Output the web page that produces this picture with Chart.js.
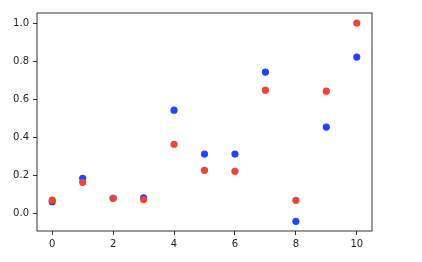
<!DOCTYPE html>
<html>
<head>
<meta charset="utf-8">
<script src="https://cdn.jsdelivr.net/npm/chart.js@4/dist/chart.umd.min.js"></script>
<style>
  html, body { margin: 0; padding: 0; background: #fff; }
  #wrap { width: 422px; height: 262px; }
</style>
</head>
<body>
<div id="wrap"><canvas id="c" width="422" height="262"></canvas></div>
<script>
const xValues = [0, 1, 2, 3, 4, 5, 6, 7, 8, 9, 10];
const blueValues = [0.061, 0.184, 0.079, 0.081, 0.542, 0.311, 0.311, 0.742, -0.042, 0.453, 0.821];
const redValues = [0.070, 0.163, 0.079, 0.072, 0.363, 0.226, 0.221, 0.647, 0.068, 0.642, 1.000];
const xTicks = [0, 2, 4, 6, 8, 10];
const yTicks = [0.0, 0.2, 0.4, 0.6, 0.8, 1.0];

const toPts = vals => xValues.map((x, i) => ({ x: x, y: vals[i] }));

const frame = {
  id: 'frame',
  afterDraw(chart) {
    const a = chart.chartArea, ctx = chart.ctx;
    ctx.save();
    ctx.strokeStyle = '#000';
    ctx.lineWidth = 0.8;
    ctx.strokeRect(a.left, a.top, a.right - a.left, a.bottom - a.top);
    ctx.restore();
  }
};

new Chart(document.getElementById('c'), {
  type: 'scatter',
  data: {
    datasets: [
      { label: 'red', data: toPts(redValues), backgroundColor: '#ee4433', borderWidth: 0, pointRadius: 3.6, order: 1 },
      { label: 'blue', data: toPts(blueValues), backgroundColor: '#2244ff', borderWidth: 0, pointRadius: 3.6, order: 2 }
    ]
  },
  options: {
    responsive: false,
    animation: false,
    devicePixelRatio: 1,
    layout: { padding: { left: 0, right: 50, top: 13, bottom: 0 } },
    plugins: { legend: { display: false }, tooltip: { enabled: false } },
    scales: {
      x: {
        type: 'linear', min: -0.5, max: 10.5,
        afterBuildTicks: s => { s.ticks = xTicks.map(v => ({ value: v })); },
        afterFit: s => { s.height = 31; },
        grid: { display: true, drawOnChartArea: false, drawTicks: true, tickLength: 4, color: '#000', lineWidth: 0.8 },
        border: { display: false },
        ticks: { color: '#222', font: { family: 'DejaVu Sans', size: 10 }, padding: 3, maxRotation: 0,
                  callback: v => String(v) }
      },
      y: {
        type: 'linear', min: -0.093, max: 1.0526,
        afterBuildTicks: s => { s.ticks = yTicks.map(v => ({ value: v })); },
        afterFit: s => { s.width = 37; },
        grid: { display: true, drawOnChartArea: false, drawTicks: true, tickLength: 4, color: '#000', lineWidth: 0.8 },
        border: { display: false },
        ticks: { color: '#222', font: { family: 'DejaVu Sans', size: 10 }, padding: 4,
                  callback: v => Number(v).toFixed(1) }
      }
    }
  },
  plugins: [frame]
});
</script>
</body>
</html>
